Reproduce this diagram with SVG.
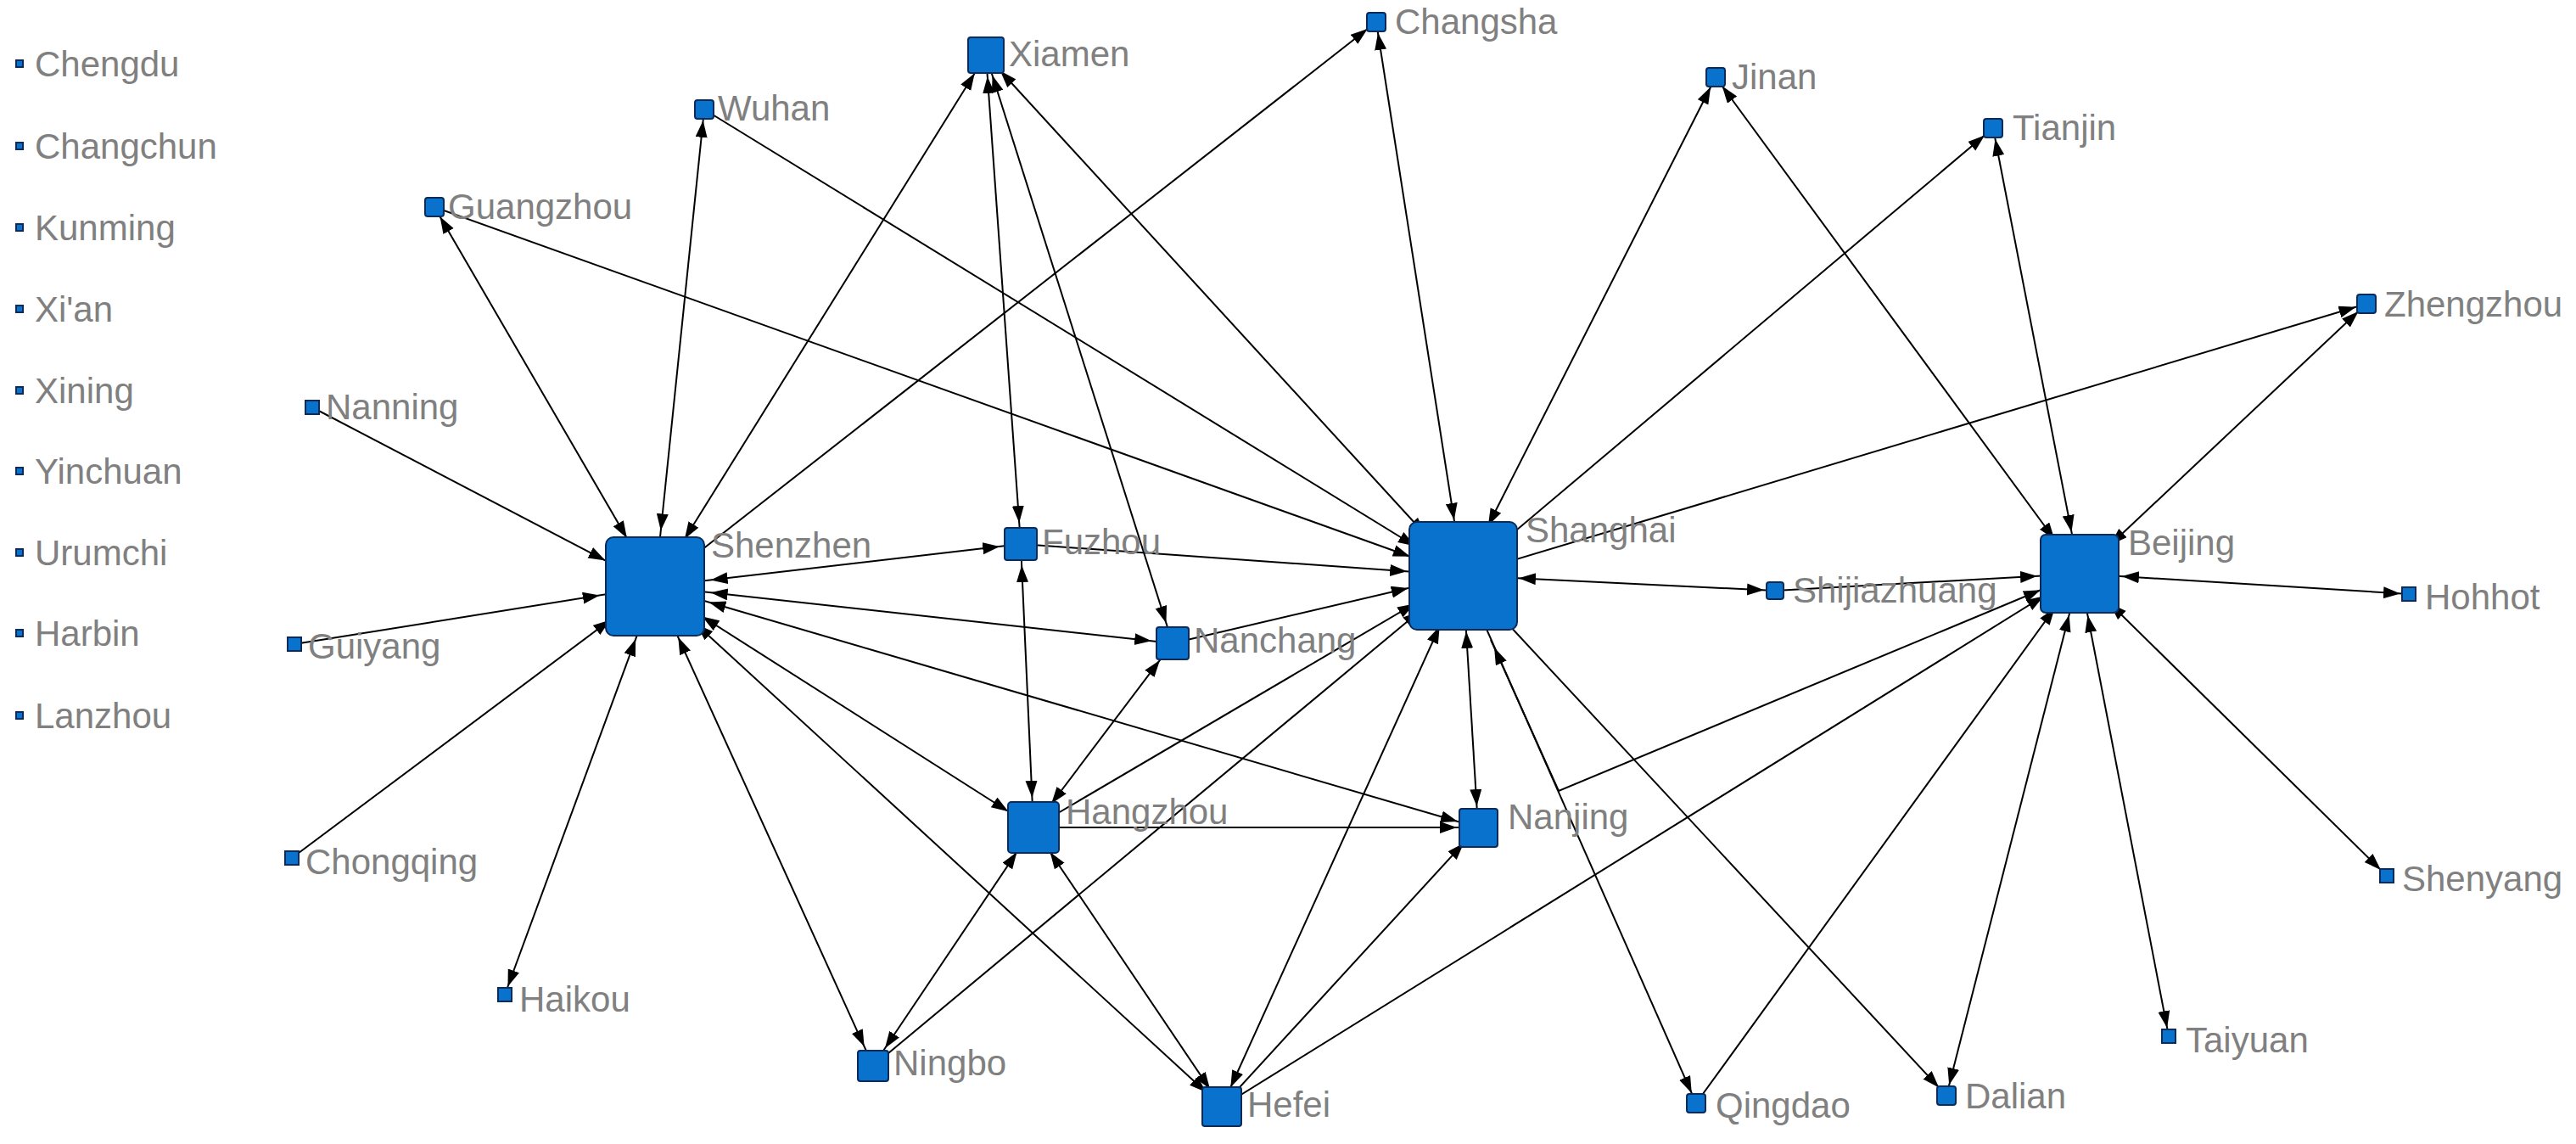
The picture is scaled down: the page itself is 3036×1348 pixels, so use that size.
<svg xmlns="http://www.w3.org/2000/svg" width="3036" height="1348" viewBox="0 0 3036 1348">
<style>
.n{fill:#0872CC;stroke:#0a2a5a;stroke-width:2}
.t{font-family:"Liberation Sans",Arial,sans-serif;font-size:42px;fill:#808080}
.e line,.e polyline{stroke:#000;stroke-width:2;fill:none}
</style>
<defs>
<marker id="a10" markerUnits="userSpaceOnUse" markerWidth="60" markerHeight="20" refX="30" refY="7" orient="auto-start-reverse"><path d="M0,0 L20,7 L0,14 z"/></marker>
<marker id="a13" markerUnits="userSpaceOnUse" markerWidth="60" markerHeight="20" refX="33" refY="7" orient="auto-start-reverse"><path d="M0,0 L20,7 L0,14 z"/></marker>
<marker id="a25" markerUnits="userSpaceOnUse" markerWidth="60" markerHeight="20" refX="45" refY="7" orient="auto-start-reverse"><path d="M0,0 L20,7 L0,14 z"/></marker>
<marker id="a36" markerUnits="userSpaceOnUse" markerWidth="60" markerHeight="20" refX="55" refY="7" orient="auto-start-reverse"><path d="M0,0 L20,7 L0,14 z"/></marker>
<marker id="a52" markerUnits="userSpaceOnUse" markerWidth="60" markerHeight="20" refX="70" refY="7" orient="auto-start-reverse"><path d="M0,0 L20,7 L0,14 z"/></marker>
<marker id="a68" markerUnits="userSpaceOnUse" markerWidth="60" markerHeight="20" refX="86" refY="7" orient="auto-start-reverse"><path d="M0,0 L20,7 L0,14 z"/></marker>
</defs>
<rect width="3036" height="1348" fill="#fff"/>
<g id="connectors" class="e">
<line x1="512" y1="244" x2="772" y2="691" marker-start="url(#a13)" marker-end="url(#a68)"/>
<line x1="830" y1="129" x2="772" y2="691" marker-start="url(#a13)" marker-end="url(#a68)"/>
<line x1="1162" y1="65" x2="772" y2="691" marker-start="url(#a25)" marker-end="url(#a68)"/>
<line x1="368" y1="480" x2="772" y2="691" marker-end="url(#a68)"/>
<line x1="347" y1="759" x2="772" y2="691" marker-end="url(#a68)"/>
<line x1="344" y1="1011" x2="772" y2="691" marker-end="url(#a68)"/>
<line x1="595" y1="1172" x2="772" y2="691" marker-start="url(#a10)" marker-end="url(#a68)"/>
<line x1="772" y1="691" x2="1622" y2="26" marker-end="url(#a13)"/>
<line x1="772" y1="691" x2="1203" y2="641" marker-start="url(#a68)" marker-end="url(#a25)"/>
<line x1="772" y1="691" x2="1382" y2="758" marker-start="url(#a68)" marker-end="url(#a25)"/>
<line x1="772" y1="691" x2="1742" y2="975" marker-start="url(#a68)" marker-end="url(#a25)"/>
<line x1="772" y1="691" x2="1218" y2="975" marker-start="url(#a68)" marker-end="url(#a36)"/>
<line x1="772" y1="691" x2="1029" y2="1256" marker-start="url(#a68)" marker-end="url(#a25)"/>
<line x1="772" y1="691" x2="1440" y2="1304" marker-start="url(#a68)" marker-end="url(#a25)"/>
<line x1="1162" y1="65" x2="1203" y2="641" marker-start="url(#a25)" marker-end="url(#a25)"/>
<line x1="1162" y1="65" x2="1382" y2="758" marker-start="url(#a25)" marker-end="url(#a25)"/>
<line x1="1162" y1="65" x2="1724" y2="678" marker-start="url(#a25)" marker-end="url(#a68)"/>
<line x1="830" y1="129" x2="1724" y2="678" marker-end="url(#a68)"/>
<line x1="512" y1="244" x2="1724" y2="678" marker-end="url(#a68)"/>
<line x1="1203" y1="641" x2="1724" y2="678" marker-end="url(#a68)"/>
<line x1="1203" y1="641" x2="1218" y2="975" marker-start="url(#a25)" marker-end="url(#a36)"/>
<line x1="1382" y1="758" x2="1724" y2="678" marker-end="url(#a68)"/>
<line x1="1382" y1="758" x2="1218" y2="975" marker-start="url(#a25)" marker-end="url(#a36)"/>
<line x1="1218" y1="975" x2="1742" y2="975" marker-end="url(#a25)"/>
<line x1="1218" y1="975" x2="1724" y2="678" marker-end="url(#a68)"/>
<line x1="1218" y1="975" x2="1440" y2="1304" marker-start="url(#a36)" marker-end="url(#a25)"/>
<line x1="1218" y1="975" x2="1029" y2="1256" marker-start="url(#a36)" marker-end="url(#a25)"/>
<line x1="1029" y1="1256" x2="1724" y2="678" marker-end="url(#a68)"/>
<line x1="1440" y1="1304" x2="1724" y2="678" marker-start="url(#a25)" marker-end="url(#a68)"/>
<line x1="1440" y1="1304" x2="1742" y2="975" marker-end="url(#a25)"/>
<line x1="1440" y1="1304" x2="2451" y2="676" marker-end="url(#a52)"/>
<line x1="1724" y1="678" x2="1622" y2="26" marker-start="url(#a68)" marker-end="url(#a13)"/>
<line x1="1724" y1="678" x2="2022" y2="91" marker-start="url(#a68)" marker-end="url(#a13)"/>
<line x1="1724" y1="678" x2="2349" y2="151" marker-end="url(#a13)"/>
<line x1="1724" y1="678" x2="2092" y2="696" marker-start="url(#a68)" marker-end="url(#a13)"/>
<line x1="1724" y1="678" x2="1742" y2="975" marker-start="url(#a68)" marker-end="url(#a25)"/>
<line x1="1724" y1="678" x2="1999" y2="1300" marker-end="url(#a13)"/>
<line x1="1724" y1="678" x2="2294" y2="1291" marker-end="url(#a13)"/>
<line x1="1724" y1="678" x2="2789" y2="358" marker-end="url(#a13)"/>
<polyline points="1757,754 1837,932 2451,676" marker-start="url(#a10)" marker-end="url(#a52)"/>
<line x1="2022" y1="91" x2="2451" y2="676" marker-start="url(#a13)" marker-end="url(#a52)"/>
<line x1="2349" y1="151" x2="2451" y2="676" marker-start="url(#a13)" marker-end="url(#a52)"/>
<line x1="2789" y1="358" x2="2451" y2="676" marker-start="url(#a13)" marker-end="url(#a52)"/>
<line x1="2839" y1="700" x2="2451" y2="676" marker-start="url(#a10)" marker-end="url(#a52)"/>
<line x1="2813" y1="1032" x2="2451" y2="676" marker-start="url(#a10)" marker-end="url(#a52)"/>
<line x1="2556" y1="1221" x2="2451" y2="676" marker-start="url(#a10)" marker-end="url(#a52)"/>
<line x1="2294" y1="1291" x2="2451" y2="676" marker-start="url(#a13)" marker-end="url(#a52)"/>
<line x1="1999" y1="1300" x2="2451" y2="676" marker-end="url(#a52)"/>
<line x1="2092" y1="696" x2="2451" y2="676" marker-end="url(#a52)"/>
</g>
<g id="Chengdu"><rect class="n" x="19" y="71" width="8" height="8"/><text class="t" x="41" y="90">Chengdu</text></g>
<g id="Changchun"><rect class="n" x="19" y="168" width="8" height="8"/><text class="t" x="41" y="187">Changchun</text></g>
<g id="Kunming"><rect class="n" x="19" y="264" width="8" height="8"/><text class="t" x="41" y="283">Kunming</text></g>
<g id="Xian"><rect class="n" x="19" y="360" width="8" height="8"/><text class="t" x="41" y="379">Xi'an</text></g>
<g id="Xining"><rect class="n" x="19" y="456" width="8" height="8"/><text class="t" x="41" y="475">Xining</text></g>
<g id="Yinchuan"><rect class="n" x="19" y="551" width="8" height="8"/><text class="t" x="41" y="570">Yinchuan</text></g>
<g id="Urumchi"><rect class="n" x="19" y="647" width="8" height="8"/><text class="t" x="41" y="666">Urumchi</text></g>
<g id="Harbin"><rect class="n" x="19" y="742" width="8" height="8"/><text class="t" x="41" y="761">Harbin</text></g>
<g id="Lanzhou"><rect class="n" x="19" y="839" width="8" height="8"/><text class="t" x="41" y="858">Lanzhou</text></g>
<g id="Xiamen"><rect class="n" x="1141" y="44" width="42" height="42" rx="3"/><text class="t" x="1189" y="78">Xiamen</text></g>
<g id="Wuhan"><rect class="n" x="819" y="118" width="22" height="22" rx="3"/><text class="t" x="846" y="142">Wuhan</text></g>
<g id="Guangzhou"><rect class="n" x="501" y="233" width="22" height="22" rx="3"/><text class="t" x="528" y="258">Guangzhou</text></g>
<g id="Nanning"><rect class="n" x="360" y="472" width="16" height="16"/><text class="t" x="384" y="494">Nanning</text></g>
<g id="Shenzhen"><rect class="n" x="714" y="633" width="116" height="116" rx="9"/><text class="t" x="838" y="657">Shenzhen</text></g>
<g id="Guiyang"><rect class="n" x="339" y="751" width="16" height="16"/><text class="t" x="363" y="776">Guiyang</text></g>
<g id="Chongqing"><rect class="n" x="336" y="1003" width="16" height="16"/><text class="t" x="360" y="1030">Chongqing</text></g>
<g id="Haikou"><rect class="n" x="587" y="1164" width="16" height="16"/><text class="t" x="612" y="1192">Haikou</text></g>
<g id="Fuzhou"><rect class="n" x="1184" y="622" width="38" height="38" rx="3"/><text class="t" x="1228" y="653">Fuzhou</text></g>
<g id="Nanchang"><rect class="n" x="1363" y="739" width="38" height="38" rx="3"/><text class="t" x="1407" y="769">Nanchang</text></g>
<g id="Hangzhou"><rect class="n" x="1188" y="945" width="60" height="60" rx="4"/><text class="t" x="1256" y="971">Hangzhou</text></g>
<g id="Ningbo"><rect class="n" x="1011" y="1238" width="36" height="36" rx="3"/><text class="t" x="1053" y="1267">Ningbo</text></g>
<g id="Hefei"><rect class="n" x="1417" y="1281" width="46" height="46" rx="3"/><text class="t" x="1470" y="1316">Hefei</text></g>
<g id="Changsha"><rect class="n" x="1611" y="15" width="22" height="22" rx="3"/><text class="t" x="1644" y="40">Changsha</text></g>
<g id="Jinan"><rect class="n" x="2011" y="80" width="22" height="22" rx="3"/><text class="t" x="2041" y="105">Jinan</text></g>
<g id="Tianjin"><rect class="n" x="2338" y="140" width="22" height="22" rx="3"/><text class="t" x="2372" y="165">Tianjin</text></g>
<g id="Zhengzhou"><rect class="n" x="2778" y="347" width="22" height="22" rx="3"/><text class="t" x="2810" y="373">Zhengzhou</text></g>
<g id="Shanghai"><rect class="n" x="1661" y="615" width="127" height="127" rx="9"/><text class="t" x="1798" y="639">Shanghai</text></g>
<g id="Shijiazhuang"><rect class="n" x="2082" y="686" width="20" height="20" rx="3"/><text class="t" x="2113" y="710">Shijiazhuang</text></g>
<g id="Beijing"><rect class="n" x="2405" y="630" width="92" height="92" rx="6"/><text class="t" x="2508" y="654">Beijing</text></g>
<g id="Hohhot"><rect class="n" x="2831" y="692" width="16" height="16"/><text class="t" x="2858" y="718">Hohhot</text></g>
<g id="Nanjing"><rect class="n" x="1720" y="953" width="45" height="45" rx="3"/><text class="t" x="1777" y="977">Nanjing</text></g>
<g id="Shenyang"><rect class="n" x="2805" y="1024" width="16" height="16"/><text class="t" x="2831" y="1050">Shenyang</text></g>
<g id="Taiyuan"><rect class="n" x="2548" y="1213" width="16" height="16"/><text class="t" x="2576" y="1240">Taiyuan</text></g>
<g id="Qingdao"><rect class="n" x="1988" y="1289" width="22" height="22" rx="3"/><text class="t" x="2022" y="1317">Qingdao</text></g>
<g id="Dalian"><rect class="n" x="2283" y="1280" width="22" height="22" rx="3"/><text class="t" x="2316" y="1306">Dalian</text></g>
</svg>
